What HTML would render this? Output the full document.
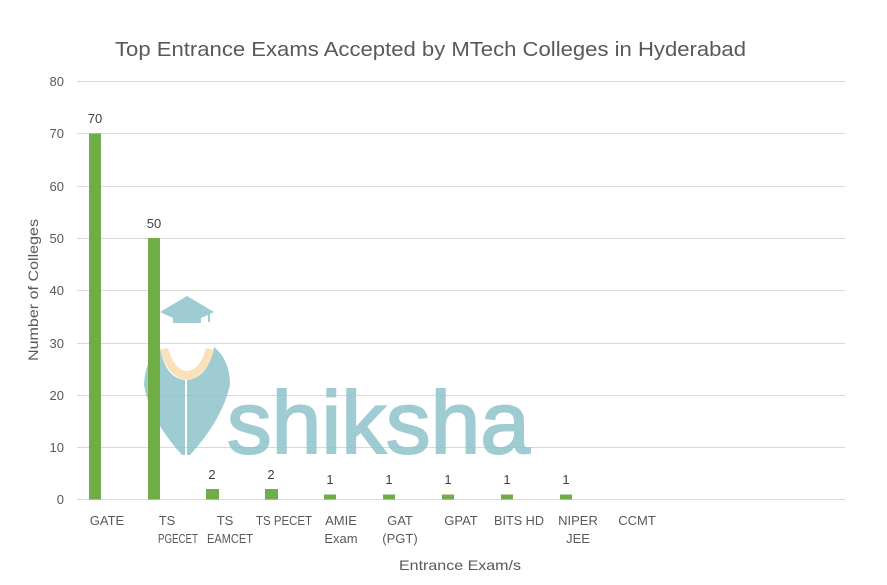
<!DOCTYPE html>
<html><head><style>
html,body{margin:0;padding:0;background:#fff;}
svg{display:block;font-family:"Liberation Sans",sans-serif;}
</style></head><body>
<svg width="887" height="585" viewBox="0 0 887 585" xmlns="http://www.w3.org/2000/svg">
<rect width="887" height="585" fill="#fff"/>
<text x="115" y="56" font-size="20" fill="#595959" textLength="631" lengthAdjust="spacingAndGlyphs">Top Entrance Exams Accepted by MTech Colleges in Hyderabad</text>
<g stroke="#d9d9d9" stroke-width="1">
<line x1="77" x2="845" y1="81.5" y2="81.5"/>
<line x1="77" x2="845" y1="133.5" y2="133.5"/>
<line x1="77" x2="845" y1="186.5" y2="186.5"/>
<line x1="77" x2="845" y1="238.5" y2="238.5"/>
<line x1="77" x2="845" y1="290.5" y2="290.5"/>
<line x1="77" x2="845" y1="343.5" y2="343.5"/>
<line x1="77" x2="845" y1="395.5" y2="395.5"/>
<line x1="77" x2="845" y1="447.5" y2="447.5"/>
<line x1="77" x2="845" y1="499.5" y2="499.5"/>
</g>
<g font-size="13" fill="#595959" text-anchor="end">
<text x="64" y="86">80</text><text x="64" y="138">70</text><text x="64" y="191">60</text>
<text x="64" y="243">50</text><text x="64" y="295">40</text><text x="64" y="348">30</text>
<text x="64" y="400">20</text><text x="64" y="452">10</text><text x="64" y="504">0</text>
</g>
<text transform="translate(38,290) rotate(-90)" text-anchor="middle" font-size="14" fill="#595959" textLength="142" lengthAdjust="spacingAndGlyphs">Number of Colleges</text>
<!-- watermark -->
<g opacity="0.85">
<path d="M160 312 L187 296 L214 312 L210 314 L210 322 L208 322 L208 315 L201 318 L201 323 L173 323 L173 318 Z" fill="#8fc3cc"/>
<path d="M160 347 Q145 360 144 385 Q150 420 182 455 L185 455 L185 380 Q165 378 160 347 Z" fill="#8fc3cc"/>
<path d="M214 347 Q230 360 230 385 Q222 420 190 455 L187 455 L187 380 Q208 378 214 347 Z" fill="#8fc3cc"/>
<path d="M160 350 Q168 378 187 380 Q206 378 214 350 L206 348 Q200 370 187 371 Q174 370 168 348 Z" fill="#fbdcae"/>
<text x="227" y="453" font-size="88" fill="#8fc3cc" stroke="#8fc3cc" stroke-width="2" textLength="303" lengthAdjust="spacingAndGlyphs">shiksha</text>
</g>
<g fill="#70ad47">
<rect x="89" y="133.5" width="12" height="366"/>
<rect x="148" y="238" width="12" height="261.5"/>
<rect x="206" y="489" width="13" height="10.5"/>
<rect x="265" y="489" width="13" height="10.5"/>
<rect x="324" y="494.5" width="12" height="5"/>
<rect x="383" y="494.5" width="12" height="5"/>
<rect x="442" y="494.5" width="12" height="5"/>
<rect x="501" y="494.5" width="12" height="5"/>
<rect x="560" y="494.5" width="12" height="5"/>
</g>
<g font-size="13" fill="#404040" text-anchor="middle">
<text x="95" y="123">70</text><text x="154" y="228">50</text>
<text x="212" y="479">2</text><text x="271" y="479">2</text>
<text x="330" y="484">1</text><text x="389" y="484">1</text><text x="448" y="484">1</text>
<text x="507" y="484">1</text><text x="566" y="484">1</text>
</g>
<g font-size="13" fill="#595959" text-anchor="middle">
<text x="107" y="525">GATE</text>
<text x="167" y="525">TS</text><text x="178" y="543" textLength="40" lengthAdjust="spacingAndGlyphs">PGECET</text>
<text x="225" y="525">TS</text><text x="230" y="543" textLength="46" lengthAdjust="spacingAndGlyphs">EAMCET</text>
<text x="284" y="525" textLength="56" lengthAdjust="spacingAndGlyphs">TS PECET</text>
<text x="341" y="525">AMIE</text><text x="341" y="543">Exam</text>
<text x="400" y="525">GAT</text><text x="400" y="543">(PGT)</text>
<text x="461" y="525">GPAT</text>
<text x="519" y="525" textLength="50" lengthAdjust="spacingAndGlyphs">BITS HD</text>
<text x="578" y="525">NIPER</text><text x="578" y="543">JEE</text>
<text x="637" y="525">CCMT</text>
</g>
<text x="460" y="570" text-anchor="middle" font-size="14" fill="#595959" textLength="122" lengthAdjust="spacingAndGlyphs">Entrance Exam/s</text>
</svg>
</body></html>
